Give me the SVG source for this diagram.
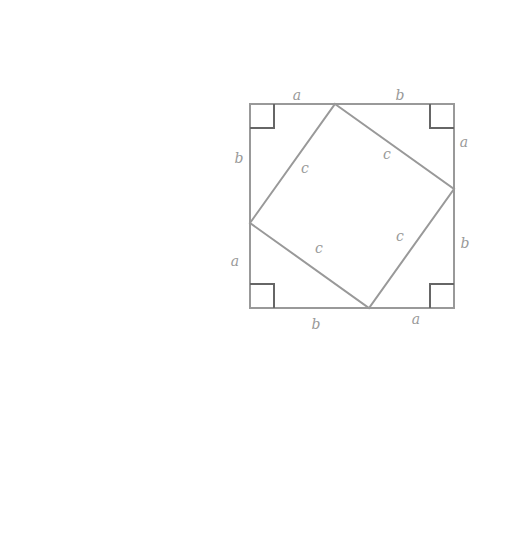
<svg xmlns="http://www.w3.org/2000/svg" width="510" height="550" viewBox="0 0 510 550">
<style>
.ln{fill:none;stroke:#999;stroke-width:2}
.ra{fill:none;stroke:#666;stroke-width:2}
.t{font-family:"DejaVu Serif","Liberation Serif",serif;font-style:italic;font-size:14px;fill:#999;text-anchor:middle}
</style>
<rect width="510" height="550" fill="#fff"/>
<g id="outer"><rect class="ln" x="250" y="104" width="204" height="204"/></g>
<g id="corners">
<path class="ra" d="M250,128H274V104"/>
<path class="ra" d="M430,104V128H454"/>
<path class="ra" d="M250,284H274V308"/>
<path class="ra" d="M454,284H430V308"/>
</g>
<g id="inner"><polygon class="ln" points="335,104 454,189 369,308 250,223"/></g>
<g id="labels">
<text class="t" x="297" y="100">a</text>
<text class="t" x="400" y="100">b</text>
<text class="t" x="464" y="147">a</text>
<text class="t" x="239" y="163">b</text>
<text class="t" x="305" y="173">c</text>
<text class="t" x="387" y="159">c</text>
<text class="t" x="400" y="241">c</text>
<text class="t" x="319" y="253">c</text>
<text class="t" x="235" y="266">a</text>
<text class="t" x="465" y="248">b</text>
<text class="t" x="316" y="329">b</text>
<text class="t" x="416" y="324">a</text>
</g>
</svg>
